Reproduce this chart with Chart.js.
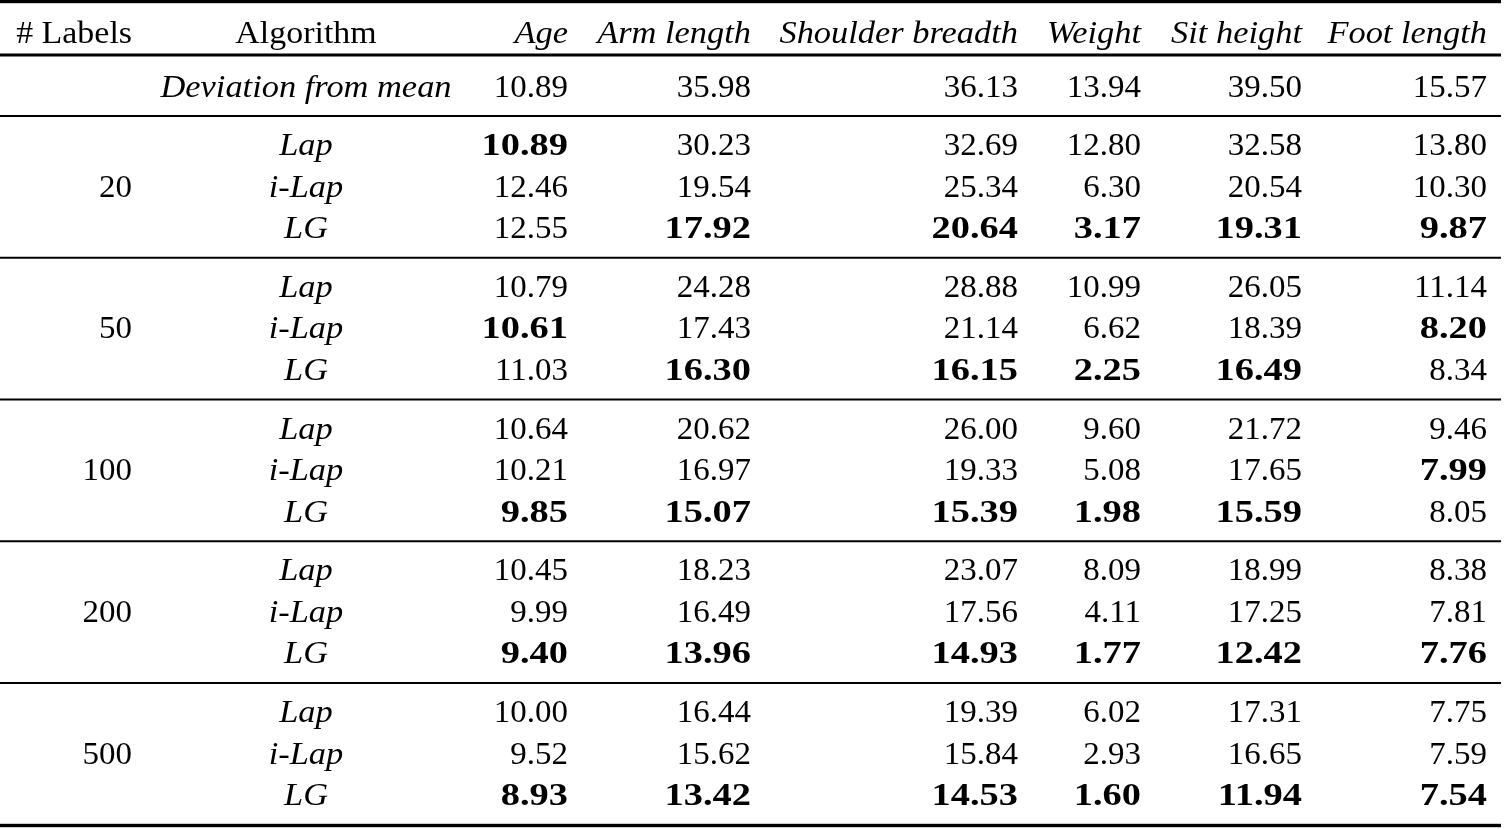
<!DOCTYPE html>
<html>
<head>
<meta charset="utf-8">
<script src="https://cdn.jsdelivr.net/npm/chart.js"></script>
<style>
  html, body { margin: 0; background: #fff; }
  #wrap { width: 1505px; height: 829px; }
</style>
</head>
<body>
<div id="wrap"><canvas id="table"></canvas></div>
<script>
// Table values, one small array per thing
const measures = ['Age', 'Arm length', 'Shoulder breadth', 'Weight', 'Sit height', 'Foot length'];
const labelCounts = ['20', '50', '100', '200', '500'];
const algorithms = ['Lap', 'i-Lap', 'LG'];
const deviationFromMean = [10.89, 35.98, 36.13, 13.94, 39.50, 15.57];
const lapErrors = [
  [10.89, 30.23, 32.69, 12.80, 32.58, 13.80],
  [10.79, 24.28, 28.88, 10.99, 26.05, 11.14],
  [10.64, 20.62, 26.00, 9.60, 21.72, 9.46],
  [10.45, 18.23, 23.07, 8.09, 18.99, 8.38],
  [10.00, 16.44, 19.39, 6.02, 17.31, 7.75]
];
const iLapErrors = [
  [12.46, 19.54, 25.34, 6.30, 20.54, 10.30],
  [10.61, 17.43, 21.14, 6.62, 18.39, 8.20],
  [10.21, 16.97, 19.33, 5.08, 17.65, 7.99],
  [9.99, 16.49, 17.56, 4.11, 17.25, 7.81],
  [9.52, 15.62, 15.84, 2.93, 16.65, 7.59]
];
const lgErrors = [
  [12.55, 17.92, 20.64, 3.17, 19.31, 9.87],
  [11.03, 16.30, 16.15, 2.25, 16.49, 8.34],
  [9.85, 15.07, 15.39, 1.98, 15.59, 8.05],
  [9.40, 13.96, 14.93, 1.77, 12.42, 7.76],
  [8.93, 13.42, 14.53, 1.60, 11.94, 7.54]
];

// Layout (scale units == pixels of the 1505x829 page)
const FONT = '"Liberation Serif", "Times New Roman", serif';
const FS = 32;
// Liberation is narrower than Computer Modern, so stretch a bit
const SX_ROMAN = 1.06, SX_NUM = 1.03, SX_ITALIC = 1.075, SX_BOLD = 1.2;
const colRight = [568, 751, 1018, 1141, 1302, 1487];
const labelsRight = 132;
const algoCenter = 306;
const headerBase = 43;
const devBase = 97;
const firstRowBase = 155;
const rowPitch = 41.5;
const groupPitch = 141.75;
const ruleLeft = 0, ruleRight = 1501;

const algoRows = [lapErrors, iLapErrors, lgErrors];
const rowBase = (g, a) => firstRowBase + g * groupPitch + a * rowPitch;

// one scatter dataset per measure column, one point per table cell
const datasets = measures.map((m, j) => {
  const pts = [{ x: colRight[j], y: devBase, v: deviationFromMean[j], bold: false }];
  labelCounts.forEach((lc, g) => {
    const best = Math.min(...algoRows.map(rows => rows[g][j]));
    algoRows.forEach((rows, a) => {
      pts.push({ x: colRight[j], y: rowBase(g, a), v: rows[g][j], bold: rows[g][j] === best });
    });
  });
  return { label: m, data: pts, pointRadius: 0, showLine: false };
});

function drawText(ctx, text, px, py, align, sx) {
  ctx.save();
  ctx.translate(px, py);
  ctx.scale(sx, 1);
  ctx.textAlign = align;
  ctx.fillText(text, 0, 0);
  ctx.restore();
}

const tablePlugin = {
  id: 'tableText',
  afterDraw(chart) {
    const { ctx, scales: { x, y } } = chart;
    const px = v => x.getPixelForValue(v);
    const py = v => y.getPixelForValue(v);
    ctx.save();
    ctx.fillStyle = '#000';
    ctx.textBaseline = 'alphabetic';

    // rules
    const rule = (yv, w) => ctx.fillRect(px(ruleLeft), py(yv) - w / 2, px(ruleRight) - px(ruleLeft), w);
    rule(1.6, 3.2);
    rule(55, 3);
    rule(116, 2);
    for (let g = 1; g < labelCounts.length; g++) rule(116 + g * groupPitch, 2);
    rule(825.5, 3.4);

    // header
    ctx.font = `${FS}px ${FONT}`;
    drawText(ctx, '# Labels', px(labelsRight), py(headerBase), 'right', SX_ROMAN);
    drawText(ctx, 'Algorithm', px(algoCenter), py(headerBase), 'center', SX_ROMAN);
    ctx.font = `italic ${FS}px ${FONT}`;
    measures.forEach((m, j) => drawText(ctx, m, px(colRight[j]), py(headerBase), 'right', SX_ITALIC));

    // row labels
    drawText(ctx, 'Deviation from mean', px(algoCenter), py(devBase), 'center', SX_ITALIC);
    labelCounts.forEach((lc, g) => {
      ctx.font = `italic ${FS}px ${FONT}`;
      algorithms.forEach((al, a) => drawText(ctx, al, px(algoCenter), py(rowBase(g, a)), 'center', SX_ITALIC));
      ctx.font = `${FS}px ${FONT}`;
      drawText(ctx, lc, px(labelsRight), py(rowBase(g, 1)), 'right', SX_NUM);
    });

    // cell values from the dataset points
    chart.data.datasets.forEach((ds, i) => {
      chart.getDatasetMeta(i).data.forEach((el, k) => {
        const p = ds.data[k];
        ctx.font = `${p.bold ? 'bold ' : ''}${FS}px ${FONT}`;
        drawText(ctx, p.v.toFixed(2), el.x, el.y, 'right', p.bold ? SX_BOLD : SX_NUM);
      });
    });
    ctx.restore();
  }
};

new Chart(document.getElementById('table'), {
  type: 'scatter',
  data: { datasets },
  options: {
    responsive: true,
    maintainAspectRatio: false,
    animation: false,
    layout: { padding: 0 },
    plugins: { legend: { display: false }, tooltip: { enabled: false } },
    scales: {
      x: { type: 'linear', min: 0, max: 1505, display: false },
      y: { type: 'linear', min: 0, max: 829, reverse: true, display: false }
    }
  },
  plugins: [tablePlugin]
});
</script>
</body>
</html>
